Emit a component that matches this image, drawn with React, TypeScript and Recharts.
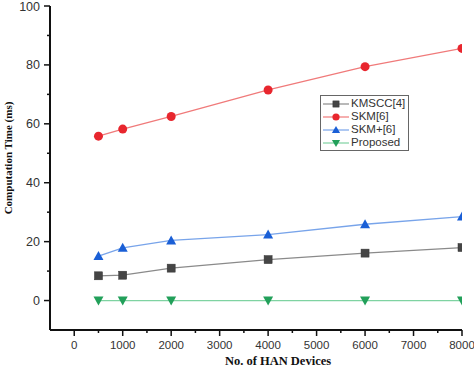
import React from 'react';
import { LineChart, Line, XAxis, YAxis, Label } from 'recharts';

const devices = [500, 1000, 2000, 4000, 6000, 8000];
const kmscc = [8.4, 8.6, 11.0, 13.9, 16.1, 18.0];
const skm = [55.8, 58.2, 62.5, 71.5, 79.4, 85.6];
const skmPlus = [15.1, 17.9, 20.4, 22.4, 25.9, 28.5];
const proposed = [0, 0, 0, 0, 0, 0];

const xTicks = [0, 500, 1000, 1500, 2000, 2500, 3000, 3500, 4000, 4500, 5000, 5500, 6000, 6500, 7000, 7500, 8000];
const yTicks = [0, 10, 20, 30, 40, 50, 60, 70, 80, 90, 100];

const data = devices.map((d, i) => ({
  x: d,
  kmscc: kmscc[i],
  skm: skm[i],
  skmPlus: skmPlus[i],
  proposed: proposed[i],
}));

type Shape = 'square' | 'circle' | 'up' | 'down';

const series: { key: string; name: string; line: string; fill: string; shape: Shape }[] = [
  { key: 'kmscc', name: 'KMSCC[4]', line: '#8a8a8a', fill: '#454545', shape: 'square' },
  { key: 'skm', name: 'SKM[6]', line: '#f07a7a', fill: '#e8262e', shape: 'circle' },
  { key: 'skmPlus', name: 'SKM+[6]', line: '#78a4ea', fill: '#1a5fd6', shape: 'up' },
  { key: 'proposed', name: 'Proposed', line: '#7fd3a2', fill: '#22a05a', shape: 'down' },
];

function Marker({ cx, cy, shape, fill, r = 4.5 }: { cx: number; cy: number; shape: Shape; fill: string; r?: number }) {
  if (shape === 'square') return <rect x={cx - r + 0.5} y={cy - r + 0.5} width={2 * r - 1} height={2 * r - 1} fill={fill} stroke="#333" strokeWidth={0.5} />;
  if (shape === 'circle') return <circle cx={cx} cy={cy} r={r} fill={fill} />;
  if (shape === 'up') return <polygon points={`${cx},${cy - r - 0.5} ${cx - r - 0.5},${cy + r - 0.5} ${cx + r + 0.5},${cy + r - 0.5}`} fill={fill} />;
  return <polygon points={`${cx},${cy + r + 0.5} ${cx - r - 0.5},${cy - r + 0.5} ${cx + r + 0.5},${cy - r + 0.5}`} fill={fill} />;
}

const makeDot = (shape: Shape, fill: string) => (props: any) => {
  const { cx, cy, index } = props;
  if (cx == null || cy == null) return <g key={index} />;
  return <Marker key={index} cx={cx} cy={cy} shape={shape} fill={fill} />;
};

const XTick = (props: any) => {
  const { x, y, payload } = props;
  const v = payload.value;
  const major = v % 1000 === 0;
  return (
    <g>
      <line x1={x} x2={x} y1={y} y2={y + (major ? 6 : 3)} stroke="#111" strokeWidth={1.5} />
      {major && (
        <text x={x} y={y + 19} textAnchor="middle" fontSize={11.5} fill="#333" fontFamily="'Liberation Sans', Arial, sans-serif">
          {v}
        </text>
      )}
    </g>
  );
};

const YTick = (props: any) => {
  const { x, y, payload } = props;
  const v = payload.value;
  const major = v % 20 === 0;
  return (
    <g>
      <line x1={x} x2={x - (major ? 6 : 3)} y1={y} y2={y} stroke="#111" strokeWidth={1.5} />
      {major && (
        <text x={x - 10} y={y + 4.5} textAnchor="end" fontSize={12.5} fill="#333" fontFamily="'Liberation Sans', Arial, sans-serif">
          {v}
        </text>
      )}
    </g>
  );
};

const LegendBox = () => (
  <div
    style={{
      position: 'absolute',
      left: 320,
      top: 95,
      border: '1px solid #666',
      background: '#fff',
      padding: '1px 3px 1px 2px',
      fontFamily: "'Liberation Sans', Arial, sans-serif",
      fontSize: 11.5,
      color: '#333',
      lineHeight: '13px',
    }}
  >
    {series.map((s) => (
      <div key={s.key} style={{ display: 'flex', alignItems: 'center', height: 13 }}>
        <svg width={26} height={12} style={{ display: 'block' }}>
          <line x1={0} x2={26} y1={6} y2={6} stroke={s.line} strokeWidth={1.2} />
          <Marker cx={13} cy={6} shape={s.shape} fill={s.fill} r={3.6} />
        </svg>
        <span style={{ marginLeft: 2, whiteSpace: 'nowrap' }}>{s.name}</span>
      </div>
    ))}
  </div>
);

export default function App() {
  return (
    <div style={{ position: 'absolute', left: 0, top: 0, width: 474, height: 367, background: '#fff' }}>
      <LineChart width={474} height={367} data={data} margin={{ top: 6, right: 12, bottom: 0, left: 0 }}>
        <XAxis
          dataKey="x"
          type="number"
          domain={[-500, 8000]}
          ticks={xTicks}
          allowDataOverflow
          height={37}
          tickSize={0}
          tickMargin={0}
          tickLine={false}
          tick={<XTick />}
          axisLine={{ stroke: '#111', strokeWidth: 2 }}
          interval={0}
        >
          <Label
            value="No. of HAN Devices"
            position="insideBottom"
            offset={0}
            dx={22}
            dy={-2}
            style={{ fontFamily: "'Liberation Serif', 'Times New Roman', serif", fontWeight: 'bold', fontSize: 12.5, fill: '#111' }}
          />
        </XAxis>
        <YAxis
          type="number"
          domain={[-10, 100]}
          ticks={yTicks}
          allowDataOverflow
          width={50}
          tickSize={0}
          tickMargin={0}
          tickLine={false}
          tick={<YTick />}
          axisLine={{ stroke: '#111', strokeWidth: 2 }}
          interval={0}
        >
          <Label
            value="Computation Time (ms)"
            angle={-90}
            position="insideLeft"
            offset={0}
            dx={8}
            dy={-10}
            style={{ textAnchor: 'middle', fontFamily: "'Liberation Serif', 'Times New Roman', serif", fontWeight: 'bold', fontSize: 11, fill: '#111' }}
          />
        </YAxis>
        {series.map((s) => (
          <Line
            key={s.key}
            dataKey={s.key}
            name={s.name}
            stroke={s.line}
            strokeWidth={1.3}
            dot={makeDot(s.shape, s.fill)}
            activeDot={false}
            isAnimationActive={false}
          />
        ))}
      </LineChart>
      <LegendBox />
    </div>
  );
}
